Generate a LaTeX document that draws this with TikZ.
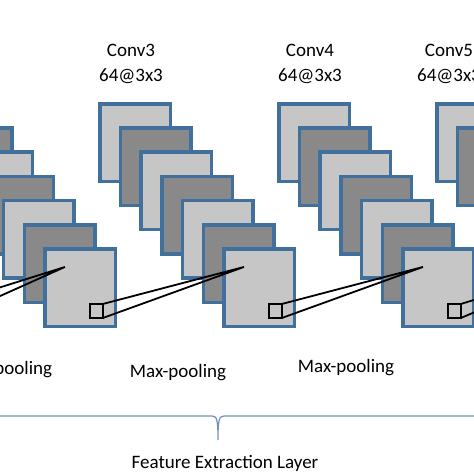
\documentclass[tikz,border=0pt]{standalone}
\usepackage{fontspec}
\setmainfont{Carlito}
\definecolor{fmblue}{HTML}{41709C}
\definecolor{fmlight}{HTML}{C6C6C6}
\definecolor{fmdark}{HTML}{898989}
\definecolor{braceblue}{HTML}{7090BA}
\begin{document}
\begin{tikzpicture}[x=1pt,y=-1pt,
  fmap/.style={draw=fmblue,line width=3.5pt,minimum width=70.5pt,minimum height=77.5pt,inner sep=0pt,outer sep=0pt,anchor=north west},
  pool/.style={draw=black,line width=1.8pt,fill=fmlight,minimum width=13pt,minimum height=14pt,inner sep=0pt,outer sep=0pt,anchor=north west},
  lbl/.style={font=\fontsize{19}{25}\selectfont,text=black,align=center}]
\clip(0,0)rectangle(474,474);
%
\foreach \n/\x in {2/-81,3/98,4/277,5/435}
  \foreach \i in {0,...,6}{
    \ifodd\i\def\fc{fmdark}\else\def\fc{fmlight}\fi
    \node[fmap,fill=\fc](c\n-\i) at (\x+1.75+20.7*\i,103.75+24.2*\i){};
  }
%
\node[pool](p1) at (-53,300){};
\foreach \n in {2,3,4}
  \node[pool](p\n) at ([shift={(45,55)}]c\n-6.north west){};
\foreach \m in {2,3,4,5}
  \coordinate(t\m) at ([shift={(20,18)}]c\m-6.north west);
\foreach \n/\m in {1/2,2/3,3/4,4/5}
  \draw[line width=1.8pt](p\n.north east)--(t\m) (p\n.south east)--(t\m);
%
\node[lbl](l3) at (131,64){Conv3\\64@3x3};
\node[lbl](l4) at (310,64){Conv4\\64@3x3};
\node[lbl](l5) at (449,64){Conv5\\64@3x3};
%
\node[lbl](m2) at (4,370){Max-pooling};
\node[lbl](m3) at (178,373){Max-pooling};
\node[lbl](m4) at (346,368){Max-pooling};
%
\coordinate(b) at (218,440);
\draw[braceblue,line width=1.2pt](0,416)--(212,416)..controls(217,416)and(218,420)..(b)
  ..controls(218,420)and(219,416)..(224,416)--(474,416);
\node[lbl](fe) at (225,463){Feature Extraction Layer};
\end{tikzpicture}
\end{document}
